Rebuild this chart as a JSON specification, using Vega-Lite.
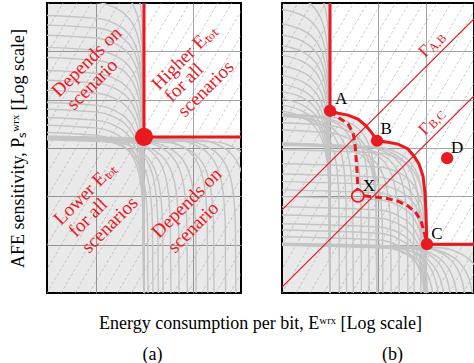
{
"$schema":"https://vega.github.io/schema/vega-lite/v6.json",
"padding":{"left":7,"top":-4,"right":0,"bottom":0},
"spacing":41,
"bounds":"flush",
"config":{
 "font":"Liberation Serif",
 "view":{"stroke":"#000","strokeWidth":2,"fill":"white"},
 "axis":{"grid":true,"gridColor":"#999","gridWidth":0.9,"ticks":false,"domain":false,"labels":false,"titleFontWeight":"normal","titleFontSize":18,"titleColor":"#000","labelColor":"#000","labelFontSize":18,"titleFont":"Liberation Serif","labelFont":"Liberation Serif"}
},
"datasets":{
 "hatch":[
  {"x":-3.48,"x2":0.04,"y":0,"y2":6},{"x":-3.19,"x2":0.33,"y":0,"y2":6},{"x":-2.9,"x2":0.62,"y":0,"y2":6},{"x":-2.61,"x2":0.91,"y":0,"y2":6},{"x":-2.32,"x2":1.2,"y":0,"y2":6},{"x":-2.03,"x2":1.49,"y":0,"y2":6},{"x":-1.74,"x2":1.78,"y":0,"y2":6},{"x":-1.45,"x2":2.07,"y":0,"y2":6},{"x":-1.16,"x2":2.36,"y":0,"y2":6},{"x":-0.87,"x2":2.65,"y":0,"y2":6},{"x":-0.58,"x2":2.94,"y":0,"y2":6},{"x":-0.29,"x2":3.23,"y":0,"y2":6},{"x":0,"x2":3.52,"y":0,"y2":6},{"x":0.29,"x2":3.81,"y":0,"y2":6},{"x":0.58,"x2":4.1,"y":0,"y2":6},{"x":0.87,"x2":4.39,"y":0,"y2":6},{"x":1.16,"x2":4.68,"y":0,"y2":6},{"x":1.45,"x2":4.97,"y":0,"y2":6},{"x":1.74,"x2":5.26,"y":0,"y2":6},{"x":2.03,"x2":5.55,"y":0,"y2":6},{"x":2.32,"x2":5.84,"y":0,"y2":6},{"x":2.61,"x2":6.13,"y":0,"y2":6},{"x":2.9,"x2":6.42,"y":0,"y2":6},{"x":3.19,"x2":6.71,"y":0,"y2":6},{"x":3.48,"x2":7.0,"y":0,"y2":6},{"x":3.77,"x2":7.29,"y":0,"y2":6}
 ],
 "ca":[
  {"g":"t1","x":[-1,1,1.4,1.6,1.75,1.85,1.92,1.96,1.985,2],"y":[3.35,3.267,3.152,3.025,2.847,2.628,2.334,1.992,1.494,-1]},
  {"g":"t2","x":[-1,1,1.4,1.6,1.75,1.85,1.92,1.96,1.985,2],"y":[3.5,3.417,3.302,3.175,2.997,2.778,2.484,2.142,1.644,-1]},
  {"g":"t3","x":[-1,1,1.4,1.6,1.75,1.85,1.92,1.96,1.985,2],"y":[3.66,3.577,3.462,3.335,3.157,2.938,2.644,2.302,1.804,-1]},
  {"g":"t4","x":[-1,1,1.4,1.6,1.75,1.85,1.92,1.96,1.985,2],"y":[3.83,3.747,3.632,3.505,3.327,3.108,2.814,2.472,1.974,-1]},
  {"g":"t5","x":[-1,1,1.4,1.6,1.75,1.85,1.92,1.96,1.985,2],"y":[3.97,3.887,3.772,3.645,3.467,3.248,2.954,2.612,2.114,-1]},
  {"g":"t6","x":[-1,1,1.4,1.6,1.75,1.85,1.92,1.96,1.985,2],"y":[4.22,4.137,4.022,3.895,3.717,3.498,3.204,2.862,2.364,-1]},
  {"g":"t7","x":[-1,1,1.4,1.6,1.75,1.85,1.92,1.96,1.985,2],"y":[4.43,4.347,4.232,4.105,3.927,3.708,3.414,3.072,2.574,-1]},
  {"g":"t8","x":[-1,1,1.4,1.6,1.75,1.85,1.92,1.96,1.985,2],"y":[4.63,4.547,4.432,4.305,4.127,3.908,3.614,3.272,2.774,-1]},
  {"g":"t9","x":[-1,1,1.4,1.6,1.75,1.85,1.92,1.96,1.985,2],"y":[4.9,4.817,4.702,4.575,4.397,4.178,3.884,3.542,3.044,-1]},
  {"g":"t10","x":[-1,1,1.4,1.6,1.75,1.85,1.92,1.96,1.985,2],"y":[5.11,5.027,4.912,4.785,4.607,4.388,4.094,3.752,3.254,-1]},
  {"g":"t11","x":[-1,1,1.4,1.6,1.75,1.85,1.92,1.96,1.985,2],"y":[5.36,5.277,5.162,5.035,4.857,4.638,4.344,4.002,3.504,-1]},
  {"g":"t12","x":[-1,1,1.4,1.6,1.75,1.85,1.92,1.96,1.985,2],"y":[5.57,5.487,5.372,5.245,5.067,4.848,4.554,4.212,3.714,-1]},
  {"g":"t13","x":[-1,1,1.4,1.6,1.75,1.85,1.92,1.96,1.985,2],"y":[5.77,5.687,5.572,5.445,5.267,5.048,4.754,4.412,3.914,-1]},
  {"g":"t14","x":[-1,1,1.4,1.6,1.75,1.85,1.92,1.96,1.985,2],"y":[6.1,6.017,5.902,5.775,5.597,5.378,5.084,4.742,4.244,-1]},
  {"g":"t15","x":[-1,1,1.4,1.6,1.75,1.85,1.92,1.96,1.985,2],"y":[6.5,6.417,6.302,6.175,5.997,5.778,5.484,5.142,4.644,-1]},
  {"g":"t16","x":[-1,1,1.4,1.6,1.75,1.85,1.92,1.96,1.985,2],"y":[7,6.917,6.802,6.675,6.497,6.278,5.984,5.642,5.144,-1]},
  {"g":"r1","x":[-1,1.09,1.49,1.69,1.84,1.94,2.01,2.05,2.075,2.09],"y":[3.26,3.177,3.062,2.935,2.757,2.538,2.244,1.902,1.404,-1]},
  {"g":"r2","x":[-1,1.19,1.59,1.79,1.94,2.04,2.11,2.15,2.175,2.19],"y":[3.22,3.137,3.022,2.895,2.717,2.498,2.204,1.862,1.364,-1]},
  {"g":"r3","x":[-1,1.3,1.7,1.9,2.05,2.15,2.22,2.26,2.285,2.3],"y":[3.25,3.167,3.052,2.925,2.747,2.528,2.234,1.892,1.394,-1]},
  {"g":"r4","x":[-1,1.4,1.8,2,2.15,2.25,2.32,2.36,2.385,2.4],"y":[3.2,3.117,3.002,2.875,2.697,2.478,2.184,1.842,1.344,-1]},
  {"g":"r5","x":[-1,1.56,1.96,2.16,2.31,2.41,2.48,2.52,2.545,2.56],"y":[3.24,3.157,3.042,2.915,2.737,2.518,2.224,1.882,1.384,-1]},
  {"g":"r6","x":[-1,1.73,2.13,2.33,2.48,2.58,2.65,2.69,2.715,2.73],"y":[3.19,3.107,2.992,2.865,2.687,2.468,2.174,1.832,1.334,-1]},
  {"g":"r7","x":[-1,1.9,2.3,2.5,2.65,2.75,2.82,2.86,2.885,2.9],"y":[3.23,3.147,3.032,2.905,2.727,2.508,2.214,1.872,1.374,-1]},
  {"g":"r8","x":[-1,2.08,2.48,2.68,2.83,2.93,3,3.04,3.065,3.08],"y":[3.21,3.127,3.012,2.885,2.707,2.488,2.194,1.852,1.354,-1]},
  {"g":"r9","x":[-1,2.32,2.72,2.92,3.07,3.17,3.24,3.28,3.305,3.32],"y":[3.26,3.177,3.062,2.935,2.757,2.538,2.244,1.902,1.404,-1]},
  {"g":"r10","x":[-1,2.45,2.85,3.05,3.2,3.3,3.37,3.41,3.435,3.45],"y":[3.2,3.117,3.002,2.875,2.697,2.478,2.184,1.842,1.344,-1]},
  {"g":"r11","x":[-1,2.69,3.09,3.29,3.44,3.54,3.61,3.65,3.675,3.69],"y":[3.24,3.157,3.042,2.915,2.737,2.518,2.224,1.882,1.384,-1]},
  {"g":"r12","x":[-1,2.9,3.3,3.5,3.65,3.75,3.82,3.86,3.885,3.9],"y":[3.22,3.137,3.022,2.895,2.717,2.498,2.204,1.862,1.364,-1]},
  {"g":"r13","x":[-1,3.15,3.55,3.75,3.9,4,4.07,4.11,4.135,4.15],"y":[3.25,3.167,3.052,2.925,2.747,2.528,2.234,1.892,1.394,-1]},
  {"g":"r14","x":[-1,3.45,3.85,4.05,4.2,4.3,4.37,4.41,4.435,4.45],"y":[3.21,3.127,3.012,2.885,2.707,2.488,2.194,1.852,1.354,-1]}
 ],
 "cb":[
  {"g":"a1","x":[-1,0,0.4,0.6,0.75,0.85,0.92,0.96,0.985,1],"y":[3.85,3.767,3.652,3.525,3.347,3.128,2.834,2.492,1.994,-1]},
  {"g":"a2","x":[-1,0,0.4,0.6,0.75,0.85,0.92,0.96,0.985,1],"y":[3.97,3.887,3.772,3.645,3.467,3.248,2.954,2.612,2.114,-1]},
  {"g":"a3","x":[-1,0,0.4,0.6,0.75,0.85,0.92,0.96,0.985,1],"y":[4.1,4.017,3.902,3.775,3.597,3.378,3.084,2.742,2.244,-1]},
  {"g":"a4","x":[-1,0,0.4,0.6,0.75,0.85,0.92,0.96,0.985,1],"y":[4.25,4.167,4.052,3.925,3.747,3.528,3.234,2.892,2.394,-1]},
  {"g":"a5","x":[-1,0,0.4,0.6,0.75,0.85,0.92,0.96,0.985,1],"y":[4.4,4.317,4.202,4.075,3.897,3.678,3.384,3.042,2.544,-1]},
  {"g":"a6","x":[-1,0,0.4,0.6,0.75,0.85,0.92,0.96,0.985,1],"y":[4.58,4.497,4.382,4.255,4.077,3.858,3.564,3.222,2.724,-1]},
  {"g":"a7","x":[-1,0,0.4,0.6,0.75,0.85,0.92,0.96,0.985,1],"y":[4.78,4.697,4.582,4.455,4.277,4.058,3.764,3.422,2.924,-1]},
  {"g":"a8","x":[-1,0,0.4,0.6,0.75,0.85,0.92,0.96,0.985,1],"y":[5,4.917,4.802,4.675,4.497,4.278,3.984,3.642,3.144,-1]},
  {"g":"a9","x":[-1,0,0.4,0.6,0.75,0.85,0.92,0.96,0.985,1],"y":[5.2,5.117,5.002,4.875,4.697,4.478,4.184,3.842,3.344,-1]},
  {"g":"a10","x":[-1,0,0.4,0.6,0.75,0.85,0.92,0.96,0.985,1],"y":[5.42,5.337,5.222,5.095,4.917,4.698,4.404,4.062,3.564,-1]},
  {"g":"a11","x":[-1,0,0.4,0.6,0.75,0.85,0.92,0.96,0.985,1],"y":[5.65,5.567,5.452,5.325,5.147,4.928,4.634,4.292,3.794,-1]},
  {"g":"a12","x":[-1,0,0.4,0.6,0.75,0.85,0.92,0.96,0.985,1],"y":[5.95,5.867,5.752,5.625,5.447,5.228,4.934,4.592,4.094,-1]},
  {"g":"a13","x":[-1,0,0.4,0.6,0.75,0.85,0.92,0.96,0.985,1],"y":[6.3,6.217,6.102,5.975,5.797,5.578,5.284,4.942,4.444,-1]},
  {"g":"a14","x":[-1,0,0.4,0.6,0.75,0.85,0.92,0.96,0.985,1],"y":[6.8,6.717,6.602,6.475,6.297,6.078,5.784,5.442,4.944,-1]},
  {"g":"b1","x":[-1,0.2,0.6,0.8,0.95,1.05,1.12,1.16,1.185,1.2],"y":[3.75,3.667,3.552,3.425,3.247,3.028,2.734,2.392,1.894,-1]},
  {"g":"b2","x":[-1,0.35,0.75,0.95,1.1,1.2,1.27,1.31,1.335,1.35],"y":[3.72,3.637,3.522,3.395,3.217,2.998,2.704,2.362,1.864,-1]},
  {"g":"b3","x":[-1,0.49,0.89,1.09,1.24,1.34,1.41,1.45,1.475,1.49],"y":[3.7,3.617,3.502,3.375,3.197,2.978,2.684,2.342,1.844,-1]},
  {"g":"b4","x":[-1,0.66,1.06,1.26,1.41,1.51,1.58,1.62,1.645,1.66],"y":[3.74,3.657,3.542,3.415,3.237,3.018,2.724,2.382,1.884,-1]},
  {"g":"b5","x":[-1,0.82,1.22,1.42,1.57,1.67,1.74,1.78,1.805,1.82],"y":[3.71,3.627,3.512,3.385,3.207,2.988,2.694,2.352,1.854,-1]},
  {"g":"b6","x":[-1,0.98,1.38,1.58,1.73,1.83,1.9,1.94,1.965,1.98],"y":[3.73,3.647,3.532,3.405,3.227,3.008,2.714,2.372,1.874,-1]},
  {"g":"c1","x":[-1,0.98,1.38,1.58,1.73,1.83,1.9,1.94,1.965,1.98],"y":[3.4,3.317,3.202,3.075,2.897,2.678,2.384,2.042,1.544,-1]},
  {"g":"c2","x":[-1,0.98,1.38,1.58,1.73,1.83,1.9,1.94,1.965,1.98],"y":[3.55,3.467,3.352,3.225,3.047,2.828,2.534,2.192,1.694,-1]},
  {"g":"d1","x":[-1,1.11,1.51,1.71,1.86,1.96,2.03,2.07,2.095,2.11],"y":[3.13,3.047,2.932,2.805,2.627,2.408,2.114,1.772,1.274,-1]},
  {"g":"d2","x":[-1,1.28,1.68,1.88,2.03,2.13,2.2,2.24,2.265,2.28],"y":[3.1,3.017,2.902,2.775,2.597,2.378,2.084,1.742,1.244,-1]},
  {"g":"d3","x":[-1,1.45,1.85,2.05,2.2,2.3,2.37,2.41,2.435,2.45],"y":[3.12,3.037,2.922,2.795,2.617,2.398,2.104,1.762,1.264,-1]},
  {"g":"d4","x":[-1,1.63,2.03,2.23,2.38,2.48,2.55,2.59,2.615,2.63],"y":[3.08,2.997,2.882,2.755,2.577,2.358,2.064,1.722,1.224,-1]},
  {"g":"d5","x":[-1,1.76,2.16,2.36,2.51,2.61,2.68,2.72,2.745,2.76],"y":[3.11,3.027,2.912,2.785,2.607,2.388,2.094,1.752,1.254,-1]},
  {"g":"d6","x":[-1,1.9,2.3,2.5,2.65,2.75,2.82,2.86,2.885,2.9],"y":[3.09,3.007,2.892,2.765,2.587,2.368,2.074,1.732,1.234,-1]},
  {"g":"d7","x":[-1,2,2.4,2.6,2.75,2.85,2.92,2.96,2.985,3],"y":[3.1,3.017,2.902,2.775,2.597,2.378,2.084,1.742,1.244,-1]},
  {"g":"e1","x":[-1,2.02,2.42,2.62,2.77,2.87,2.94,2.98,3.005,3.02],"y":[1.18,1.097,0.982,0.855,0.677,0.458,0.164,-0.178,-0.676,-1]},
  {"g":"e2","x":[-1,2.02,2.42,2.62,2.77,2.87,2.94,2.98,3.005,3.02],"y":[1.32,1.237,1.122,0.995,0.817,0.598,0.304,-0.038,-0.536,-1]},
  {"g":"e3","x":[-1,2.02,2.42,2.62,2.77,2.87,2.94,2.98,3.005,3.02],"y":[1.45,1.367,1.252,1.125,0.947,0.728,0.434,0.092,-0.406,-1]},
  {"g":"e4","x":[-1,2.02,2.42,2.62,2.77,2.87,2.94,2.98,3.005,3.02],"y":[1.63,1.547,1.432,1.305,1.127,0.908,0.614,0.272,-0.226,-1]},
  {"g":"e5","x":[-1,2.02,2.42,2.62,2.77,2.87,2.94,2.98,3.005,3.02],"y":[1.8,1.717,1.602,1.475,1.297,1.078,0.784,0.442,-0.056,-1]},
  {"g":"e6","x":[-1,2.02,2.42,2.62,2.77,2.87,2.94,2.98,3.005,3.02],"y":[2.01,1.927,1.812,1.685,1.507,1.288,0.994,0.652,0.154,-1]},
  {"g":"e7","x":[-1,2.02,2.42,2.62,2.77,2.87,2.94,2.98,3.005,3.02],"y":[2.15,2.067,1.952,1.825,1.647,1.428,1.134,0.792,0.294,-1]},
  {"g":"e8","x":[-1,2.02,2.42,2.62,2.77,2.87,2.94,2.98,3.005,3.02],"y":[2.32,2.237,2.122,1.995,1.817,1.598,1.304,0.962,0.464,-1]},
  {"g":"e9","x":[-1,2.02,2.42,2.62,2.77,2.87,2.94,2.98,3.005,3.02],"y":[2.48,2.397,2.282,2.155,1.977,1.758,1.464,1.122,0.624,-1]},
  {"g":"e10","x":[-1,2.02,2.42,2.62,2.77,2.87,2.94,2.98,3.005,3.02],"y":[2.69,2.607,2.492,2.365,2.187,1.968,1.674,1.332,0.834,-1]},
  {"g":"e11","x":[-1,2.02,2.42,2.62,2.77,2.87,2.94,2.98,3.005,3.02],"y":[2.98,2.897,2.782,2.655,2.477,2.258,1.964,1.622,1.124,-1]},
  {"g":"f1","x":[-1,2.12,2.52,2.72,2.87,2.97,3.04,3.08,3.105,3.12],"y":[1.03,0.947,0.832,0.705,0.527,0.308,0.014,-0.328,-0.826,-1]},
  {"g":"f2","x":[-1,2.22,2.62,2.82,2.97,3.07,3.14,3.18,3.205,3.22],"y":[1.01,0.927,0.812,0.685,0.507,0.288,-0.006,-0.348,-0.846,-1]},
  {"g":"f3","x":[-1,2.33,2.73,2.93,3.08,3.18,3.25,3.29,3.315,3.33],"y":[1.04,0.957,0.842,0.715,0.537,0.318,0.024,-0.318,-0.816,-1]},
  {"g":"f4","x":[-1,2.45,2.85,3.05,3.2,3.3,3.37,3.41,3.435,3.45],"y":[1,0.917,0.802,0.675,0.497,0.278,-0.016,-0.358,-0.856,-1]},
  {"g":"f5","x":[-1,2.58,2.98,3.18,3.33,3.43,3.5,3.54,3.565,3.58],"y":[1.03,0.947,0.832,0.705,0.527,0.308,0.014,-0.328,-0.826,-1]},
  {"g":"f6","x":[-1,2.72,3.12,3.32,3.47,3.57,3.64,3.68,3.705,3.72],"y":[1.01,0.927,0.812,0.685,0.507,0.288,-0.006,-0.348,-0.846,-1]},
  {"g":"f7","x":[-1,2.88,3.28,3.48,3.63,3.73,3.8,3.84,3.865,3.88],"y":[1.04,0.957,0.842,0.715,0.537,0.318,0.024,-0.318,-0.816,-1]},
  {"g":"f8","x":[-1,3.05,3.45,3.65,3.8,3.9,3.97,4.01,4.035,4.05],"y":[1,0.917,0.802,0.675,0.497,0.278,-0.016,-0.358,-0.856,-1]},
  {"g":"f9","x":[-1,3.3,3.7,3.9,4.05,4.15,4.22,4.26,4.285,4.3],"y":[1.02,0.937,0.822,0.695,0.517,0.298,0.004,-0.338,-0.836,-1]}
 ],
 "bound":[
  {"i":0,"x":1.0,"y":6},{"i":1,"x":1.0,"y":3.77},{"i":2,"x":1.167,"y":3.72},{"i":3,"x":1.375,"y":3.68},{"i":4,"x":1.583,"y":3.6},{"i":5,"x":1.75,"y":3.46},{"i":6,"x":1.875,"y":3.31},{"i":7,"x":1.979,"y":3.15},{"i":8,"x":2.208,"y":3.12},{"i":9,"x":2.417,"y":3.08},{"i":10,"x":2.625,"y":2.98},{"i":11,"x":2.75,"y":2.83},{"i":12,"x":2.854,"y":2.67},{"i":13,"x":2.938,"y":2.42},{"i":14,"x":2.979,"y":2.07},{"i":15,"x":3.0,"y":1.66},{"i":16,"x":3.01,"y":1.32},{"i":17,"x":3.02,"y":1.01},{"i":18,"x":4,"y":1.01}
 ],
 "grayb":[
  {"x":0,"y":6},{"x":0.999,"y":6},{"x":1.0,"y":3.77},{"x":1.167,"y":3.72},{"x":1.375,"y":3.68},{"x":1.583,"y":3.6},{"x":1.75,"y":3.46},{"x":1.875,"y":3.31},{"x":1.979,"y":3.15},{"x":2.208,"y":3.12},{"x":2.417,"y":3.08},{"x":2.625,"y":2.98},{"x":2.75,"y":2.83},{"x":2.854,"y":2.67},{"x":2.938,"y":2.42},{"x":2.979,"y":2.07},{"x":3.0,"y":1.66},{"x":3.01,"y":1.32},{"x":3.02,"y":1.01},{"x":4,"y":1.01}
 ],
 "dash":[
  {"g":1,"x":1.0,"y":3.77},{"g":1,"x":1.19,"y":3.62},{"g":1,"x":1.375,"y":3.5},{"g":1,"x":1.48,"y":3.31},{"g":1,"x":1.52,"y":3.1},{"g":1,"x":1.54,"y":2.83},{"g":1,"x":1.56,"y":2.57},{"g":1,"x":1.575,"y":2.28},{"g":1,"x":1.58,"y":2.13},
  {"g":2,"x":1.71,"y":2.01},{"g":2,"x":1.854,"y":1.99},{"g":2,"x":2.125,"y":1.97},{"g":2,"x":2.417,"y":1.9},{"g":2,"x":2.625,"y":1.8},{"g":2,"x":2.79,"y":1.66},{"g":2,"x":2.896,"y":1.49},{"g":2,"x":2.958,"y":1.28},{"g":2,"x":3.02,"y":1.01}
 ]
},
"hconcat":[
 {
  "width":194,"height":290,
  "encoding":{
   "x":{"field":"x","type":"quantitative","scale":{"domain":[0,4],"nice":false,"zero":false},
        "axis":{"values":[1,2,3],"labels":true,"labelExpr":"datum.value == 2 ? '(a)' : ''","labelPadding":52,"labelOffset":8,"labelOverlap":false,"title":"Energy consumption per bit, Eʷʳˣ [Log scale]","titleX":213,"titleY":21}},
   "y":{"field":"y","type":"quantitative","scale":{"domain":[0,6],"nice":false,"zero":false},
        "axis":{"values":[1,2,3,4,5],"title":"AFE sensitivity, Pₛʷʳˣ [Log scale]","titlePadding":20}}
  },
  "layer":[
   {"data":{"values":[{"x":0,"x2":4,"y":0,"y2":3.23},{"x":0,"x2":2,"y":3.23,"y2":6}]},"mark":{"type":"rect","color":"#000","opacity":0.085},"encoding":{"x2":{"field":"x2"},"y2":{"field":"y2"}}},
   {"data":{"name":"hatch"},"mark":{"type":"rule","color":"#a8a8a8","strokeWidth":0.6,"strokeDash":[3,2],"clip":true},"encoding":{"x2":{"field":"x2"},"y2":{"field":"y2"}}},
   {"data":{"name":"ca"},"transform":[{"flatten":["x","y"]}],"mark":{"type":"line","interpolate":"monotone","color":"#c4c4c4","strokeWidth":1.4,"clip":true},"encoding":{"detail":{"field":"g"}}},
   {"data":{"values":[{"x":2,"y":3.23,"x2":2,"y2":6},{"x":2,"y":3.23,"x2":4,"y2":3.23}]},"mark":{"type":"rule","color":"#e8191f","strokeWidth":3},"encoding":{"x2":{"field":"x2"},"y2":{"field":"y2"}}},
   {"data":{"values":[{"x":2,"y":3.23}]},"mark":{"type":"point","filled":true,"color":"#e8191f","size":330,"opacity":1}},
   {"data":{"values":[
     {"x":0.247,"y":4.035,"t":"Depends on"},{"x":0.557,"y":3.766,"t":"scenario"},
     {"x":2.309,"y":4.18,"t":"Higher Eₜₒₜ"},{"x":2.577,"y":3.931,"t":"for all"},{"x":2.845,"y":3.621,"t":"scenarios"},
     {"x":0.289,"y":1.386,"t":"Lower Eₜₒₜ"},{"x":0.598,"y":1.138,"t":"for all"},{"x":0.866,"y":0.807,"t":"scenarios"},
     {"x":2.309,"y":1.117,"t":"Depends on"},{"x":2.639,"y":0.807,"t":"scenario"}]},
    "mark":{"type":"text","color":"#e8191f","fontSize":19,"angle":-45,"align":"left","baseline":"alphabetic","font":"Liberation Serif"},"encoding":{"text":{"field":"t"}}}
  ]
 },
 {
  "width":192,"height":290,
  "encoding":{
   "x":{"field":"x","type":"quantitative","scale":{"domain":[0,4],"nice":false,"zero":false},
        "axis":{"values":[1,2,3],"labels":true,"labelExpr":"datum.value == 2 ? '(b)' : ''","labelPadding":52,"labelOffset":14,"labelOverlap":false,"title":null}},
   "y":{"field":"y","type":"quantitative","scale":{"domain":[0,6],"nice":false,"zero":false},
        "axis":{"values":[1,2,3,4,5],"title":null}}
  },
  "layer":[
   {"data":{"name":"grayb"},"mark":{"type":"area","color":"#000","opacity":0.085},"encoding":{"y2":{"datum":0}}},
   {"data":{"name":"hatch"},"mark":{"type":"rule","color":"#a8a8a8","strokeWidth":0.6,"strokeDash":[3,2],"clip":true},"encoding":{"x2":{"field":"x2"},"y2":{"field":"y2"}}},
   {"data":{"name":"cb"},"transform":[{"flatten":["x","y"]}],"mark":{"type":"line","interpolate":"monotone","color":"#c4c4c4","strokeWidth":1.4,"clip":true},"encoding":{"detail":{"field":"g"}}},
   {"data":{"values":[{"x":0,"y":1.72,"x2":4,"y2":5.67},{"x":0,"y":0.12,"x2":4,"y2":4.08}]},"mark":{"type":"rule","color":"#e8191f","strokeWidth":1.2},"encoding":{"x2":{"field":"x2"},"y2":{"field":"y2"}}},
   {"data":{"name":"dash"},"mark":{"type":"line","color":"#e8191f","strokeWidth":3,"strokeDash":[7,4]},"encoding":{"detail":{"field":"g"}}},
   {"data":{"name":"bound"},"mark":{"type":"line","color":"#e8191f","strokeWidth":3},"encoding":{"order":{"field":"i"}}},
   {"data":{"values":[{"x":1.0,"y":3.77},{"x":1.979,"y":3.15},{"x":3.02,"y":1.01},{"x":3.44,"y":2.79}]},"mark":{"type":"point","filled":true,"color":"#e8191f","size":150,"opacity":1}},
   {"data":{"values":[{"x":1.58,"y":2.01}]},"mark":{"type":"point","filled":false,"color":"#e8191f","size":150,"strokeWidth":1.8,"opacity":1}},
   {"data":{"values":[{"x":1.23,"y":4.01,"t":"A"},{"x":2.17,"y":3.39,"t":"B"},{"x":1.81,"y":2.21,"t":"X"},{"x":3.23,"y":1.22,"t":"C"},{"x":3.65,"y":3.0,"t":"D"}]},
    "mark":{"type":"text","color":"#000","fontSize":17,"align":"center","baseline":"middle","font":"Liberation Serif"},"encoding":{"text":{"field":"t"}}},
   {"data":{"values":[{"x":2.98,"y":4.86,"t":"Γ"},{"x":2.98,"y":3.25,"t":"Γ"}]},
    "mark":{"type":"text","color":"#e8191f","fontSize":17,"angle":-45,"align":"left","baseline":"alphabetic","font":"Liberation Serif"},"encoding":{"text":{"field":"t"}}},
   {"data":{"values":[{"x":3.15,"y":4.97,"t":"A,B"},{"x":3.15,"y":3.39,"t":"B,C"}]},
    "mark":{"type":"text","color":"#e8191f","fontSize":12,"angle":-45,"align":"left","baseline":"alphabetic","font":"Liberation Serif"},"encoding":{"text":{"field":"t"}}}
  ]
 }
]
}
